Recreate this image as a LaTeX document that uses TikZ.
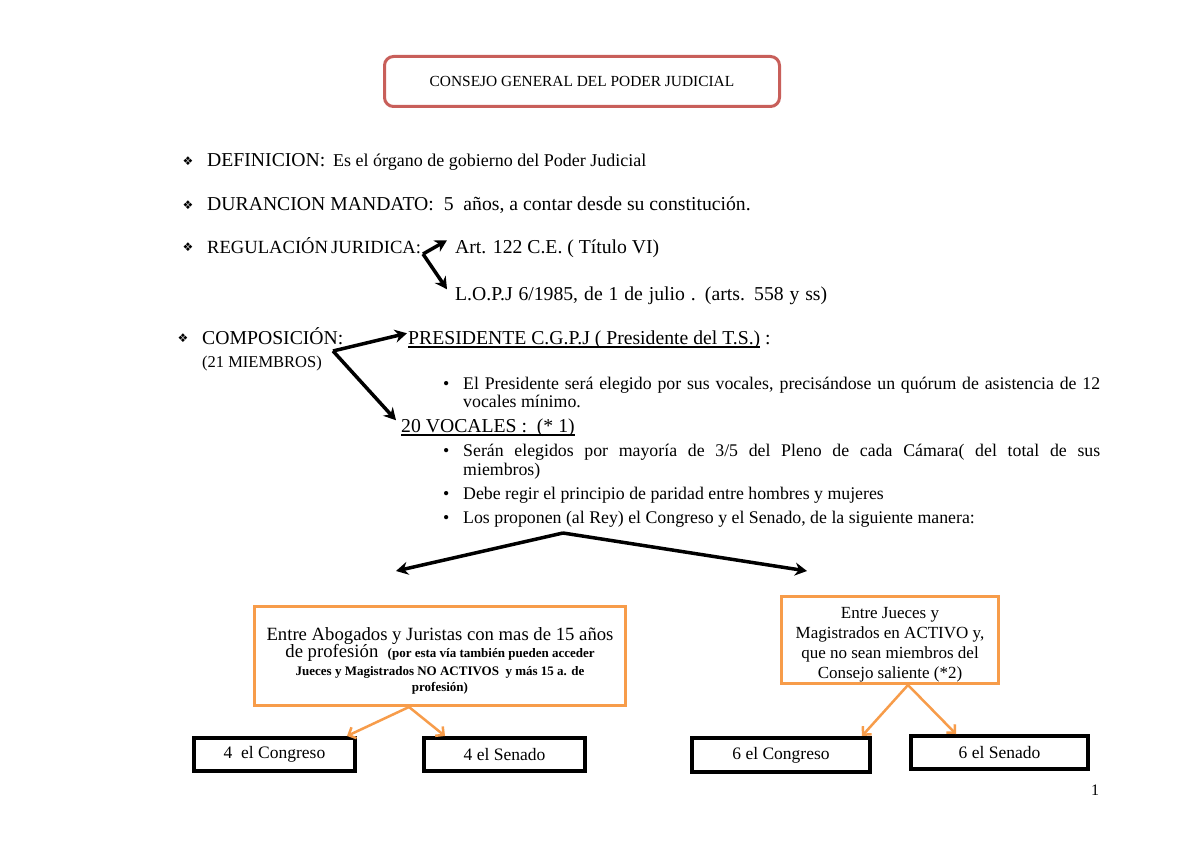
\documentclass[tikz,border=0pt]{standalone}
\usepackage{fontspec}
\setmainfont{Liberation Serif}
\newfontfamily\dejavu{DejaVu Sans}
\usetikzlibrary{arrows.meta, calc}
\definecolor{titlered}{RGB}{200,95,90}
\definecolor{boxorange}{RGB}{247,156,74}
\newcommand{\fsz}[2]{\fontsize{#1pt}{#2pt}\selectfont}
\newcommand{\uln}[1]{\setbox0\hbox{#1}\rlap{\rule[-3.5pt]{\wd0}{1.6pt}}\box0}

\begin{document}
\begin{tikzpicture}[x=1pt,y=-1pt]
		\tikzstyle{heading} = [anchor=base west, inner sep=0, font=\fsz{19.7}{24}]
		\tikzstyle{itm} = [anchor=base west, inner sep=0, font=\fsz{17.8}{20}]
		\tikzstyle{orn} = [inner sep=0, font=\dejavu\fsz{12}{13}]
		\tikzstyle{titlebox} = [draw=titlered, line width=3, rounded corners=9, minimum width=395, minimum height=50, font=\fsz{15.4}{18}]
		\tikzstyle{obox} = [draw=boxorange, line width=3, align=center, inner sep=2]
		\tikzstyle{kbox} = [draw, line width=4, font=\fsz{17.5}{20}]
		\tikzstyle{bigarrow} = [-{Stealth[length=12pt,width=13pt]}, line width=3.5]
		\tikzstyle{oarrow} = [-{Straight Barb[length=6pt,width=12pt]}, line width=2.5, boxorange]
		\fill [white] (0,0) rectangle (1200,848);
		\useasboundingbox (0,0) rectangle (1200,848);
		\node [titlebox] (v1) at (582,81.5) {CONSEJO GENERAL DEL PODER JUDICIAL};
		% items
		\node [orn] (v2) at (188,161) {❖};
		\node [heading] (v3) at (207,167) {DEFINICION:};
		\node [heading, font=\fsz{18}{20}] (v4) at (333,167) {Es el órgano de gobierno del Poder Judicial};
		\node [orn] (v5) at (188,205) {❖};
		\node [heading] (v6) at (207,211) {DURANCION MANDATO:~~5~~años, a contar desde su constitución.};
		\node [orn] (v7) at (188,247) {❖};
		\node [heading] (v8) at (207,253) {\makebox[204pt][s]{\fsz{18.6}{24}REGULACIÓN JURIDICA:}};
		\node [heading] (v9) at (455,253) {Art. 122 C.E. ( Título VI)};
		\node [heading] (v10) at (455,300) {\makebox[372pt][s]{L.O.P.J 6/1985, de 1 de julio . (arts. 558 y ss)}};
		\node [orn] (v11) at (183,338) {❖};
		\node [heading] (v12) at (202,344) {COMPOSICIÓN:};
		\node [heading, font=\fsz{16.5}{20}] (v13) at (202,367) {(21 MIEMBROS)};
		\node [heading] (v14) at (408,344) {\uln{PRESIDENTE C.G.P.J ( Presidente del T.S.)}~:};
		\node [heading] (v18) at (401,432) {\uln{20 VOCALES :~~(* 1)}};
		\foreach \y in {389,456,499,523}
			\node [itm] (b\y) at (443,\y) {•};
		\node [itm] (v16) at (463,389) {\makebox[637pt][s]{El Presidente será elegido por sus vocales, precisándose un quórum de asistencia de 12}};
		\node [itm] (v17) at (463,407) {vocales mínimo.};
		\node [itm] (v20) at (463,456) {\makebox[637pt][s]{Serán elegidos por mayoría de 3/5 del Pleno de cada Cámara( del total de sus}};
		\node [itm] (v21) at (463,475) {miembros)};
		\node [itm] (v23) at (463,499) {Debe regir el principio de paridad entre hombres y mujeres};
		\node [itm] (v25) at (463,523) {Los proponen (al Rey) el Congreso y el Senado, de la siguiente manera:};
		% black arrows
		\coordinate (v26) at (423,254);
		\draw [bigarrow] (v26) -- ([shift={(-8,-8)}]v9.west);
		\draw [bigarrow] (v26) -- ([shift={(-8,-6)}]v10.west);
		\coordinate (v27) at (333,351);
		\draw [bigarrow] (v27) -- ([shift={(-1,-6)}]v14.west);
		\draw [bigarrow] (v27) -- ([shift={(-5,-7)}]v18.west);
		\coordinate (v30) at (563,533);
		\coordinate (v31) at (396,571);
		\coordinate (v32) at (807,571);
		\draw [bigarrow] (v30) -- (v31);
		\draw [bigarrow] (v30) -- (v32);
		% boxes
		\node [obox, minimum width=371, minimum height=99] (v33) at (440,656) {\rule{0pt}{22pt}\fsz{18.7}{20}Entre Abogados y Juristas con mas de 15 años\\[-1pt] \fsz{18.7}{20}de profesión~~{\bfseries\fsz{13}{17}(por esta vía también pueden acceder}\\[4pt] \bfseries\fsz{13}{17}Jueces y Magistrados NO ACTIVOS~~y más 15 a. de\\[3pt] \bfseries\fsz{13}{17}profesión)};
		\node [obox, inner sep=0, minimum width=217, minimum height=87, font=\fsz{17}{20}] (v34) at (890,640) {\rule{0pt}{20pt}Entre Jueces y\\ Magistrados en ACTIVO y,\\ que no sean miembros del\\ Consejo saliente (*2)};
		\node [kbox, minimum width=161, minimum height=33] (v35) at (274.5,754.5) {4~~el Congreso};
		\node [kbox, minimum width=161, minimum height=33] (v36) at (504.5,754.5) {4 el Senado};
		\node [kbox, minimum width=178, minimum height=34] (v37) at (781,755) {6 el Congreso};
		\node [kbox, minimum width=177, minimum height=33] (v38) at (999.5,752.5) {6 el Senado};
		% orange arrows
		\draw [oarrow] ([xshift=-31]v33.south) -- ([xshift=-10]v35.north east);
		\draw [oarrow] ([xshift=-31]v33.south) -- ([xshift=23]v36.north west);
		\draw [oarrow] ([xshift=18]v34.south) -- ([xshift=-10]v37.north east);
		\draw [oarrow] ([xshift=18]v34.south) -- ([xshift=47]v38.north west);
		\node [font=\fsz{16}{18}] (v40) at (1095,790) {1};
\end{tikzpicture}
\end{document}
